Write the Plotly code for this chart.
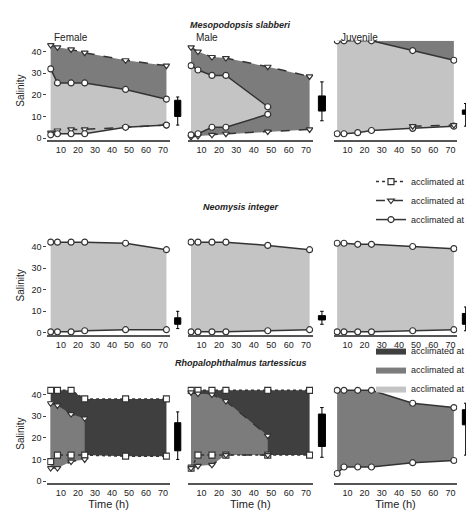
import plotly.graph_objects as go

W, H = 474, 515
t = [4, 8, 16, 24, 48, 72]

DARK, MID, LIGHT = "#3f3f3f", "#7c7c7c", "#c4c4c4"

# ---- Mesopodopsis slabberi ----
mf_up24 = [43, 42, 41, 39.5, 36, 33.5]
mf_up6 = [32, 25.5, 25.5, 25.5, 22.5, 18]
mf_lo24 = [2.5, 3.5, 4, 4, 5, 6]
mf_lo6 = [1.5, 2, 2, 2, 5, 6]
mf_box = [6, 10, 13, 17.5, 19]

mm_up24 = [42, 40, 37.5, 37, 33, 28.5]
mm_lo24 = [0.5, 1, 1.5, 2, 3, 4]
mm_up6 = [33.5, 31.5, 29, 29, 14.5]
mm_lo6 = [1.5, 2, 5, 5, 11]
mm_box = [8, 12.5, 16, 19.5, 26]

mj_up6 = [45, 45, 45, 45, 40.5, 36]
mj_lo6 = [2, 2, 2.5, 3.5, 4.5, 5.5]
mj_lo24 = [5.5, 6]
mj_box = [5.5, 11, 12, 13, 16]

# ---- Neomysis integer ----
nf_up = [42, 42, 42, 42, 41.5, 38.5]
nf_lo = [0.5, 0.5, 0.5, 1, 1.5, 1.5]
nf_box = [2, 4, 5.5, 7, 10]
nm_up = [42, 42, 42, 42, 40.5, 38.5]
nm_lo = [0.5, 0.5, 0.5, 0.5, 1, 1.5]
nm_box = [4, 6, 7, 8, 10]
nj_up = [41.5, 41.5, 41, 41, 40, 39]
nj_lo = [0.5, 0.5, 0.5, 0.5, 1, 1.5]
nj_box = [1, 4, 6.5, 9, 12]

# ---- Rhopalophthalmus tartessicus ----
rf_up30 = [42, 42, 42, 38, 38, 38]
rf_lo30 = [9, 12, 12, 12, 11.5, 11.5]
rf_up24 = [36, 35, 31, 29]
rf_lo24 = [6, 6, 9, 10]
rf_box = [10, 14, 20, 27, 32]

rm_up30 = [42, 42, 42, 42, 42, 42]
rm_lo30 = [6, 12, 12, 12, 12, 12]
rm_up24 = [41, 40.5, 40, 37, 21]
rm_lo24 = [6, 7, 7.5, 12, 12]
rm_box = [11, 16, 22, 31, 34]

rj_up24 = [42, 42, 42, 42, 36, 34]
rj_lo24 = [3.5, 6.5, 6.5, 6.5, 8.5, 9.5]
rj_box = [12, 26, 28, 33, 36]

# panel pixel geometry: (plot x0, x1, box x0, x1), row (top, bottom)
cols = [(40, 165, 166, 180), (183, 311, 312, 328), (332, 458, 459, 474)]
rows = [(33, 133), (229, 329), (378, 478)]

fig = go.Figure()
lay = {}


def ax(i):
    return ("x%d" % (2 * i + 1), "x%d" % (2 * i + 2), "y%d" % (i + 1))


for r in range(3):
    for c in range(3):
        i = r * 3 + c
        x0, x1, b0, b1 = cols[c]
        top, bot = rows[r]
        xa, xb, ya = ax(i)
        lay["xaxis%d" % (2 * i + 1)] = dict(
            domain=[x0 / W, x1 / W], anchor=ya, range=[2, 74],
            tickvals=[10, 20, 30, 40, 50, 60, 70], showline=True,
            linecolor="#555", linewidth=2, showgrid=False, zeroline=False,
            ticks="", tickfont=dict(size=9),
            title=dict(text="Time (h)" if r == 2 else "", font=dict(size=11),
                       standoff=2))
        lay["xaxis%d" % (2 * i + 2)] = dict(
            domain=[b0 / W, b1 / W], anchor=ya, range=[-1, 1], visible=False)
        lay["yaxis%d" % (i + 1)] = dict(
            domain=[1 - bot / H, 1 - top / H], anchor=xa, range=[-1, 45],
            tickvals=[0, 10, 20, 30, 40], showticklabels=(c == 0),
            showgrid=False, zeroline=False, showline=False,
            ticks="outside" if c == 0 else "", ticklen=3,
            tickfont=dict(size=9),
            title=dict(text="Salinity" if c == 0 else "", font=dict(size=10),
                       standoff=4))


def band(i, xs, up, lo, color, legend=None, name=None):
    xa, _, ya = ax(i)
    fig.add_trace(go.Scatter(
        x=list(xs) + list(xs)[::-1], y=list(up) + list(lo)[::-1],
        fill="toself", fillcolor=color, line=dict(width=0), mode="lines",
        xaxis=xa, yaxis=ya, hoverinfo="skip", name=name,
        showlegend=legend is not None, legend=legend or "legend2"))


STY = {30: ("dot", "square"), 24: ("dash", "triangle-down"), 6: ("solid", "circle")}


def line(i, xs, ys, acc, legend=False):
    xa, _, ya = ax(i)
    dash, sym = STY[acc]
    fig.add_trace(go.Scatter(
        x=xs, y=ys, mode="lines+markers", xaxis=xa, yaxis=ya,
        line=dict(color="#333", width=1.5, dash=dash),
        marker=dict(symbol=sym, size=6, color="white",
                    line=dict(color="#333", width=1.2)),
        name="acclimated at %d" % acc, showlegend=legend, legend="legend"))


def box(i, v):
    _, xb, ya = ax(i)
    fig.add_trace(go.Box(
        x=[0], lowerfence=[v[0]], q1=[v[1]], median=[v[2]], q3=[v[3]],
        upperfence=[v[4]], xaxis=xb, yaxis=ya, fillcolor="black",
        line=dict(color="black", width=1), width=0.9, whiskerwidth=0.5,
        showlegend=False, hoverinfo="skip"))


# Mesopodopsis
band(0, t, mf_up24, mf_up6, MID)
band(0, t, mf_up6, mf_lo6, LIGHT)
line(0, t, mf_up24, 24); line(0, t, mf_up6, 6)
line(0, t, mf_lo24, 24); line(0, t, mf_lo6, 6)
box(0, mf_box)

band(1, t, mm_up24, mm_lo24, MID)
band(1, t[:5], mm_up6, mm_lo6, LIGHT)
line(1, t, mm_up24, 24); line(1, t, mm_lo24, 24)
line(1, t[:5], mm_up6, 6); line(1, t[:5], mm_lo6, 6)
box(1, mm_box)

band(2, t, [45] * 6, mj_up6, MID)
band(2, t, mj_up6, mj_lo6, LIGHT)
line(2, t, mj_up6, 6); line(2, t, mj_lo6, 6)
line(2, t[4:], mj_lo24, 24)
box(2, mj_box)

# Neomysis
for i, up, lo, bx in [(3, nf_up, nf_lo, nf_box), (4, nm_up, nm_lo, nm_box),
                      (5, nj_up, nj_lo, nj_box)]:
    band(i, t, up, lo, LIGHT)
    line(i, t, up, 6); line(i, t, lo, 6)
    box(i, bx)

# Rhopalophthalmus
band(6, t, rf_up30, rf_lo30, DARK, "legend2", "acclimated at 30")
band(6, t[:4], rf_up24, rf_lo24, MID, "legend2", "acclimated at 24")
line(6, t, rf_up30, 30); line(6, t, rf_lo30, 30)
line(6, t[:4], rf_up24, 24); line(6, t[:4], rf_lo24, 24)
box(6, rf_box)

band(7, t, rm_up30, rm_lo30, DARK)
band(7, t[:5], rm_up24, rm_lo24, MID)
line(7, t, rm_up30, 30); line(7, t, rm_lo30, 30)
line(7, t[:5], rm_up24, 24); line(7, t[:5], rm_lo24, 24)
box(7, rm_box)

band(8, t, rj_up24, rj_lo24, MID)
line(8, t, rj_up24, 6); line(8, t, rj_lo24, 6)
box(8, rj_box)

# legend-only entries (placeholder points outside the visible range)
band(8, [None], [None], [None], LIGHT, "legend2", "acclimated at 6")
line(0, [None], [None], 30, True)
line(0, [None], [None], 24, True)
line(0, [None], [None], 6, True)

ann = []
for txt, y in [("Mesopodopsis slabberi", 10), ("Neomysis integer", 200),
               ("Rhopalophthalmus tartessicus", 364)]:
    ann.append(dict(text="<b><i>%s</i></b>" % txt, x=237 / W, y=1 - y / H,
                    xref="paper", yref="paper", showarrow=False,
                    font=dict(size=9)))
for txt, x in [("Female", 45), ("Male", 190), ("Juvenile", 337)]:
    ann.append(dict(text=txt, x=x / W, y=1 - 22 / H, xref="paper",
                    yref="paper", showarrow=False, xanchor="left",
                    font=dict(size=10)))

fig.update_layout(
    width=W, height=H, margin=dict(l=0, r=0, t=0, b=0),
    plot_bgcolor="white", paper_bgcolor="white",
    font=dict(family="Liberation Sans, Arial", color="#222"),
    annotations=ann,
    legend=dict(x=370 / W, xanchor="left", y=1 - 160 / H, yanchor="top",
                font=dict(size=9), bgcolor="rgba(0,0,0,0)",
                tracegroupgap=0, itemwidth=30),
    legend2=dict(x=370 / W, xanchor="left", y=1 - 330 / H, yanchor="top",
                 font=dict(size=9), bgcolor="rgba(0,0,0,0)", itemwidth=30),
    **lay)

fig.write_html("out.html")
